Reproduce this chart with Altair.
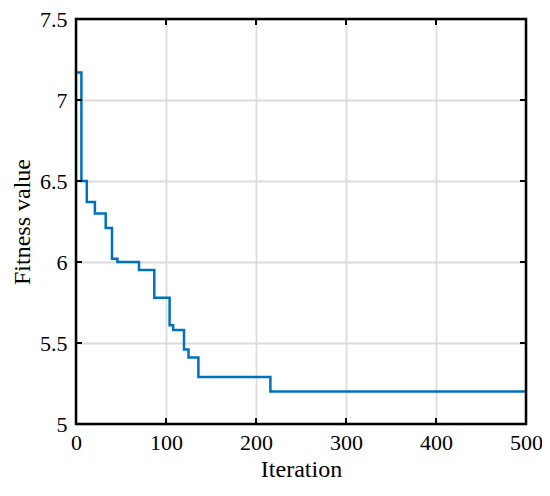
import altair as alt
import pandas as pd

# Step points of the convergence curve (iteration at which value changes)
iters = [0, 6, 12, 21, 33, 40, 46, 70, 87, 104, 108, 120, 125, 136, 216, 500]
fitness = [7.17, 6.50, 6.37, 6.30, 6.21, 6.02, 6.00, 5.95, 5.78, 5.61, 5.58,
           5.46, 5.41, 5.29, 5.20, 5.20]
x_ticks = [0, 100, 200, 300, 400, 500]
y_ticks = [5, 5.5, 6, 6.5, 7, 7.5]

W, H = 450, 405
FONT = "Liberation Serif"
TL = 6

df = pd.DataFrame({"Iteration": iters, "Fitness": fitness})
xt = pd.DataFrame({"Iteration": x_ticks})
yt = pd.DataFrame({"Fitness": y_ticks})

xscale = alt.Scale(domain=[0, 500], nice=False, zero=False)
yscale = alt.Scale(domain=[5, 7.5], nice=False, zero=False)
xaxis = alt.Axis(values=x_ticks, title="Iteration", grid=True)
yaxis = alt.Axis(values=y_ticks, title="Fitness value", grid=True, format="~g")

line = alt.Chart(df).mark_line(
    interpolate="step-after", color="#0072BD", strokeWidth=2.5, clip=True
).encode(
    x=alt.X("Iteration:Q", scale=xscale, axis=xaxis),
    y=alt.Y("Fitness:Q", scale=yscale, axis=yaxis),
)

xb = alt.Chart(xt).mark_rule(color="black", strokeWidth=2).encode(
    x=alt.X("Iteration:Q", scale=xscale, axis=xaxis),
    y=alt.value(H), y2=alt.value(H - TL))
xtop = alt.Chart(xt).mark_rule(color="black", strokeWidth=2).encode(
    x=alt.X("Iteration:Q", scale=xscale, axis=xaxis),
    y=alt.value(0), y2=alt.value(TL))
yl = alt.Chart(yt).mark_rule(color="black", strokeWidth=2).encode(
    y=alt.Y("Fitness:Q", scale=yscale, axis=yaxis),
    x=alt.value(0), x2=alt.value(TL))
yr = alt.Chart(yt).mark_rule(color="black", strokeWidth=2).encode(
    y=alt.Y("Fitness:Q", scale=yscale, axis=yaxis),
    x=alt.value(W), x2=alt.value(W - TL))

frame = alt.Chart(pd.DataFrame({"a": [0]})).mark_rect(
    fill=None, stroke="black", strokeWidth=2.5
).encode(x=alt.value(0), x2=alt.value(W), y=alt.value(0), y2=alt.value(H))

chart = alt.layer(line, xb, xtop, yl, yr, frame).properties(
    width=W, height=H,
    autosize=alt.AutoSizeParams(type="none"),
    padding={"left": 68, "top": 11, "right": 16, "bottom": 72},
).configure_view(stroke=None).configure_axis(
    domain=False, ticks=False, labelFlush=False, labelOverlap=False,
    labelFont=FONT, labelFontSize=22, labelColor="black",
    titleFont=FONT, titleFontSize=24, titleFontWeight="normal", titleColor="black",
    gridColor="#dcdcdc", gridWidth=1.8,
).configure_axisX(labelPadding=8, titlePadding=4).configure_axisY(
    labelPadding=9, titlePadding=5)

chart.save("out.html", embed_options={"renderer": "svg", "actions": False})
